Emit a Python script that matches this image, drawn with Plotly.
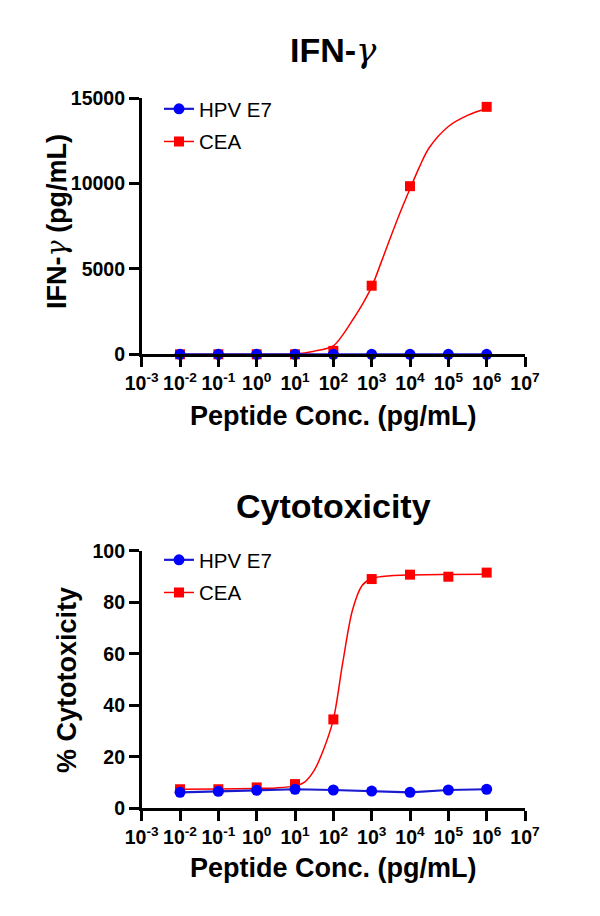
import plotly.graph_objects as go

# ---------------- data ----------------
conc = [0.01, 0.1, 1, 10, 100, 1000, 10000, 100000, 1000000]

ifn_hpv = [0, 0, 0, 0, 0, 0, 0, 0, 0]
ifn_cea = [0, 0, 0, 0, 200, 4020, 9850, None, 14500]

ifn_fit_x = [0.01, 0.1, 1, 10, 31.6, 100, 177.8, 316.2, 562.3, 1000, 1778, 3162,
             5623, 10000, 17783, 31623, 100000, 316228, 1000000]
ifn_fit_y = [0, 0, 0, 20, 180, 500, 1150, 2000, 2900, 3950, 5400, 6900,
             8350, 9700, 11000, 12100, 13350, 14000, 14400]

cyt_hpv = [6.2, 6.6, 7.0, 7.4, 7.1, 6.7, 6.2, 7.1, 7.4]
cyt_cea = [7.4, 7.4, 8.1, 9.4, 34.5, 89.0, 90.7, 89.9, 91.5]

cyt_fit_x = [0.01, 0.1, 1, 3.16, 10, 17.8, 31.6, 56.2, 100, 177.8, 316.2, 562.3,
             1000, 3162, 10000, 100000, 1000000]
cyt_fit_y = [7.4, 7.5, 7.7, 7.9, 8.7, 10.2, 14.7, 23, 34.5, 57, 77, 86.5,
             89.2, 90.3, 90.6, 90.8, 90.9]

x_tickvals = [1e-3, 1e-2, 1e-1, 1e0, 1e1, 1e2, 1e3, 1e4, 1e5, 1e6, 1e7]
x_ticktext = ["10<sup>-3</sup>", "10<sup>-2</sup>", "10<sup>-1</sup>", "10<sup>0</sup>",
              "10<sup>1</sup>", "10<sup>2</sup>", "10<sup>3</sup>", "10<sup>4</sup>",
              "10<sup>5</sup>", "10<sup>6</sup>", "10<sup>7</sup>"]
ifn_ticks = [0, 5000, 10000, 15000]
cyt_ticks = [0, 20, 40, 60, 80, 100]

series_names = ["HPV E7", "CEA"]
GAMMA = "<span style=\"font-family:'DejaVu Serif';font-weight:normal;font-style:italic\">γ</span>"
titles = ["IFN-" + GAMMA, "Cytotoxicity"]
y_titles = ["IFN-" + GAMMA + " (pg/mL)", "% Cytotoxicity"]
x_title = "Peptide Conc. (pg/mL)"

# ---------------- styling ----------------
W, H = 600, 916
FONT = "Liberation Sans, Arial, sans-serif"
BLUE = "#0000FF"
BLUE_LINE = "#1a1ad0"
RED = "#FF0000"

def px_x(p):
    return p / W

def px_y(p):
    return 1 - p / H

x_dom = [px_x(141.7), px_x(525)]
top_dom = [px_y(354.3), px_y(98.3)]
bot_dom = [px_y(808.3), px_y(550.7)]

fig = go.Figure()

def add_panel(xa, ya, legend, hpv, cea, fit_x, fit_y, grp):
    fig.add_trace(go.Scatter(x=fit_x, y=fit_y, mode="lines",
                             line=dict(color=RED, width=1.5, shape="spline", smoothing=0.9),
                             xaxis=xa, yaxis=ya, showlegend=False, hoverinfo="skip", cliponaxis=False))
    fig.add_trace(go.Scatter(x=conc, y=cea, mode="markers", marker=dict(symbol="square", size=10, color=RED),
                             xaxis=xa, yaxis=ya, showlegend=False, cliponaxis=False))
    fig.add_trace(go.Scatter(x=conc, y=hpv, mode="lines+markers", name=series_names[0],
                             line=dict(color=BLUE_LINE, width=2.2),
                             marker=dict(symbol="circle", size=11, color=BLUE),
                             xaxis=xa, yaxis=ya, legend=legend, legendrank=1,
                             legendgroup=grp + "a", cliponaxis=False))
    fig.add_trace(go.Scatter(x=[None], y=[None], mode="lines+markers", name=series_names[1],
                             line=dict(color=RED, width=1.5), marker=dict(symbol="square", size=10, color=RED),
                             xaxis=xa, yaxis=ya, legend=legend, legendrank=2, legendgroup=grp + "b"))

add_panel("x", "y", "legend", ifn_hpv, ifn_cea, ifn_fit_x, ifn_fit_y, "t")
add_panel("x2", "y2", "legend2", cyt_hpv, cyt_cea, cyt_fit_x, cyt_fit_y, "b")

axis_common = dict(showline=True, linecolor="black", linewidth=2.5, ticks="outside", ticklen=10,
                   tickwidth=2.5, tickcolor="black", showgrid=False, zeroline=False, automargin=False,
                   tickfont=dict(family=FONT, size=19.5, color="black", weight="bold"))

xcommon = dict(type="log", range=[-3, 7], tickmode="array", tickvals=x_tickvals, ticktext=x_ticktext,
               domain=x_dom, **axis_common)

leg_common = dict(xanchor="left", yanchor="top", bgcolor="rgba(0,0,0,0)",
                  font=dict(family=FONT, size=20.5, color="black"), itemwidth=30, tracegroupgap=3)

fig.update_layout(
    width=W, height=H,
    margin=dict(l=0, r=0, t=0, b=0, autoexpand=False),
    paper_bgcolor="white", plot_bgcolor="white",
    font=dict(family=FONT, color="black"),
    xaxis=dict(anchor="y", **xcommon),
    yaxis=dict(anchor="x", domain=top_dom, range=[0, 15000], tickmode="array", tickvals=ifn_ticks,
               tickformat="d", **axis_common),
    xaxis2=dict(anchor="y2", **xcommon),
    yaxis2=dict(anchor="x2", domain=bot_dom, range=[0, 100], tickmode="array", tickvals=cyt_ticks,
                tickformat="d", **axis_common),
    legend=dict(x=px_x(159), y=px_y(89), **leg_common),
    legend2=dict(x=px_x(159), y=px_y(540), **leg_common),
    showlegend=True,
)

ann = []
title_font = dict(family=FONT, size=34, color="black", weight="bold")
axt_font = dict(family=FONT, size=27, color="black", weight="bold")
cx = (141.7 + 525) / 2
for i, (ty, xy, yc, yx) in enumerate([(50, 416, 222, 57), (506, 868, 680, 67)]):
    ann.append(dict(text=titles[i], x=px_x(cx), y=px_y(ty), xref="paper", yref="paper",
                    xanchor="center", yanchor="middle", showarrow=False, font=title_font))
    ann.append(dict(text=x_title, x=px_x(cx), y=px_y(xy), xref="paper", yref="paper",
                    xanchor="center", yanchor="middle", showarrow=False, font=axt_font))
    ann.append(dict(text=y_titles[i], x=px_x(yx), y=px_y(yc), xref="paper", yref="paper",
                    xanchor="center", yanchor="middle", showarrow=False, textangle=-90, font=axt_font))
fig.update_layout(annotations=ann)

fig.write_html("out.html")
